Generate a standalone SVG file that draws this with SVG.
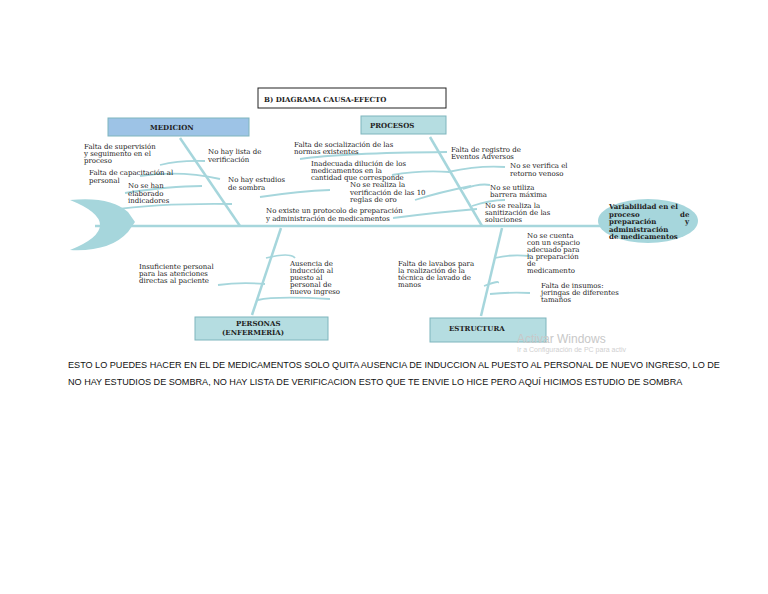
<svg xmlns="http://www.w3.org/2000/svg" width="768" height="594" viewBox="0 0 768 594">
<style>
.t{font-family:"DejaVu Serif",serif;font-size:7px;fill:#222}
.b{font-weight:bold}
.bone{stroke:#a6d6dc;stroke-width:2.5;fill:none}
.br{stroke:#a6d6dc;stroke-width:1.8;fill:none}
.box{stroke:#7fb5bd;stroke-width:1}
.note{font-family:"Liberation Sans",sans-serif;font-size:9.1px;fill:#111}
</style>
<rect width="768" height="594" fill="#fff"/>
<g id="connectors">
<path class="bone" d="M95 226 L607 226"/>
<path class="bone" d="M180 138 L240 226"/>
<path class="bone" d="M430 137 L482 226"/>
<path class="bone" d="M281 228 L252 315"/>
<path class="bone" d="M502 228 L481 316"/>
<path class="br" d="M160 165 Q180 160 205 161"/>
<path class="br" d="M140 176 Q180 170 220 179"/>
<path class="br" d="M125 193 Q170 186 202 186"/>
<path class="br" d="M110 210 Q160 203 232 204"/>
<path class="br" d="M260 197 Q300 191 330 190"/>
<path class="br" d="M300 159 Q340 153 447 152"/>
<path class="br" d="M392 175 Q420 170 450 172"/>
<path class="br" d="M415 200 Q440 192 471 186"/>
<path class="br" d="M393 218 Q440 212 477 209"/>
<path class="br" d="M448 172 Q480 165 505 167"/>
<path class="br" d="M463 189 Q480 183 490 185"/>
<path class="br" d="M472 206 Q490 200 505 200"/>
<path class="br" d="M266 258 Q290 252 295 258"/>
<path class="br" d="M218 285 Q240 282 265 284"/>
<path class="br" d="M258 300 Q275 296 330 299"/>
<path class="br" d="M495 258 Q510 254 530 256"/>
<path class="br" d="M484 286 Q500 280 498 283"/>
<path class="br" d="M490 294 Q510 292 530 293"/>
</g>
<g id="tail"><path d="M70 200 Q110 196 128 212 L135 222 L128 232 Q110 252 70 250 Q100 238 100 225 Q100 212 70 200 Z" fill="#a6d6dc"/></g>
<g id="head">
<ellipse cx="648" cy="221" rx="50" ry="22" fill="#a6d6dc"/>
<text class="t b" x="609" y="209">Variabilidad en el</text>
<text class="t b" x="609" y="216.5">proceso</text><text class="t b" x="680" y="216.5">de</text>
<text class="t b" x="609" y="224">preparación</text><text class="t b" x="685" y="224">y</text>
<text class="t b" x="609" y="231.5">administración</text>
<text class="t b" x="609" y="239">de medicamentos</text>
</g>
<g id="title"><rect x="258" y="88" width="188" height="20" fill="#fff" stroke="#222"/><text class="t b" x="264" y="102" font-size="8.2">B) DIAGRAMA CAUSA-EFECTO</text></g>
<g id="medicion"><rect class="box" x="108" y="118" width="141" height="18" fill="#9dc3e6"/><text class="t b" x="150" y="130" font-size="7.5">MEDICION</text>
<text class="t" x="84" y="149" font-size="6">Falta de supervisión</text>
<text class="t" x="84" y="156" font-size="6">y seguimento en el</text>
<text class="t" x="84" y="163" font-size="6">proceso</text>
<text class="t" x="89" y="175">Falta de capacitación al</text>
<text class="t" x="89" y="183">personal</text>
<text class="t" x="128" y="188">No se han</text>
<text class="t" x="128" y="196">elaborado</text>
<text class="t" x="128" y="203">indicadores</text>
<text class="t" x="208" y="154">No hay lista de</text>
<text class="t" x="208" y="162">verificación</text>
<text class="t" x="228" y="182">No hay estudios</text>
<text class="t" x="228" y="190">de sombra</text>
</g>
<g id="procesos"><rect class="box" x="361" y="116" width="85" height="18" fill="#b5dde1"/><text class="t b" x="370" y="128" font-size="7.5">PROCESOS</text>
<text class="t" x="294" y="147">Falta de socialización de las</text>
<text class="t" x="294" y="154">normas existentes</text>
<text class="t" x="311" y="166">Inadecuada dilución de los</text>
<text class="t" x="311" y="173">medicamentos en la</text>
<text class="t" x="311" y="180">cantidad que corresponde</text>
<text class="t" x="350" y="187">No se realiza la</text>
<text class="t" x="350" y="195">verificación de las 10</text>
<text class="t" x="350" y="202">reglas de oro</text>
<text class="t" x="266" y="213">No existe un  protocolo de preparación</text>
<text class="t" x="266" y="221">y administración de medicamentos</text>
<text class="t" x="451" y="152">Falta de registro de</text>
<text class="t" x="451" y="159">Eventos Adversos</text>
<text class="t" x="510" y="168">No se verifica el</text>
<text class="t" x="510" y="176">retorno venoso</text>
<text class="t" x="490" y="190">No se utiliza</text>
<text class="t" x="490" y="197">barrera máxima</text>
<text class="t" x="485" y="208">No se realiza la</text>
<text class="t" x="485" y="215">sanitización de las</text>
<text class="t" x="485" y="222">soluciones</text>
</g>
<g id="personas"><rect class="box" x="195" y="317" width="133" height="23" fill="#b5dde1"/><text class="t b" x="236" y="326">PERSONAS</text><text class="t b" x="222" y="335">(ENFERMERÍA)</text>
<text class="t" x="139" y="269">Insuficiente personal</text>
<text class="t" x="139" y="276">para las atenciones</text>
<text class="t" x="139" y="283">directas al paciente</text>
<text class="t" x="290" y="266">Ausencia de</text>
<text class="t" x="290" y="273">inducción al</text>
<text class="t" x="290" y="280">puesto al</text>
<text class="t" x="290" y="287">personal de</text>
<text class="t" x="290" y="294">nuevo ingreso</text>
</g>
<g id="estructura"><rect class="box" x="430" y="318" width="116" height="24" fill="#b5dde1"/><text class="t b" x="449" y="331" font-size="7.5">ESTRUCTURA</text>
<text class="t" x="398" y="266">Falta de lavabos para</text>
<text class="t" x="398" y="273">la realización de la</text>
<text class="t" x="398" y="280">técnica de  lavado de</text>
<text class="t" x="398" y="287">manos</text>
<text class="t" x="527" y="238">No se cuenta</text>
<text class="t" x="527" y="245">con un espacio</text>
<text class="t" x="527" y="252">adecuado para</text>
<text class="t" x="527" y="259">la preparación</text>
<text class="t" x="527" y="266">de</text>
<text class="t" x="527" y="273">medicamento</text>
<text class="t" x="541" y="288">Falta de insumos:</text>
<text class="t" x="541" y="295">jeringas de diferentes</text>
<text class="t" x="541" y="302">tamaños</text>
</g>
<g id="watermark"><text x="517" y="343" font-family="Liberation Sans,sans-serif" font-size="12" fill="#c8c8c8">Activar Windows</text><text x="517" y="352" font-family="Liberation Sans,sans-serif" font-size="7" fill="#d0d0d0">Ir a Configuración de PC para activ</text></g>
<g id="note">
<text class="note" x="68" y="368">ESTO LO PUEDES HACER EN EL DE MEDICAMENTOS SOLO QUITA AUSENCIA DE INDUCCION AL PUESTO AL PERSONAL DE NUEVO INGRESO, LO DE</text>
<text class="note" x="68" y="385">NO HAY ESTUDIOS DE SOMBRA, NO HAY LISTA DE VERIFICACION ESTO QUE TE ENVIE LO HICE  PERO AQUÍ HICIMOS ESTUDIO DE SOMBRA</text>
</g>
</svg>
